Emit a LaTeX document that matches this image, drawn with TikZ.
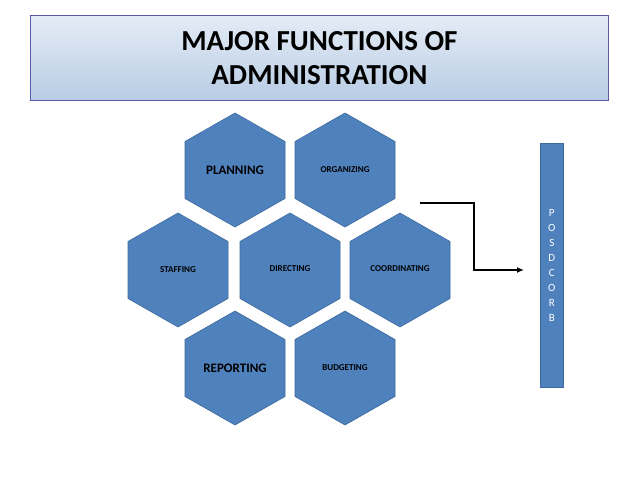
\documentclass[tikz,border=0pt]{standalone}
\usepackage{fontspec}
\setmainfont{Carlito}
\usetikzlibrary{arrows.meta}
\definecolor{hexblue}{HTML}{4F81BD}
\definecolor{hexedge}{HTML}{3A6A9E}
\definecolor{titletop}{HTML}{E4ECF6}
\definecolor{titlebot}{HTML}{B8CCE4}
\begin{document}
\begin{tikzpicture}[x=1pt,y=-1pt,
  hexlabel/.style={font=\bfseries\fontsize{9}{10}\selectfont,text=black},
  biglabel/.style={font=\bfseries\fontsize{13}{14}\selectfont,text=black},
  hexshape/.style={fill=hexblue,draw=hexedge,line width=0.6pt}]
\useasboundingbox (0,0) rectangle (638,479);
\fill[white] (0,0) rectangle (638,479);
\node[draw=gray!70!blue,line width=0.8pt,top color=titletop,bottom color=titlebot,minimum width=578,minimum height=85,inner sep=0,anchor=north west,
  align=center,font=\bfseries\fontsize{29}{34}\selectfont] (title) at (30,15) {MAJOR FUNCTIONS OF\\ADMINISTRATION};
\def\hex#1#2{\fill[hexshape] (#1,#2-57) -- (#1+50,#2-28.5) -- (#1+50,#2+28.5) -- (#1,#2+57) -- (#1-50,#2+28.5) -- (#1-50,#2-28.5) -- cycle;}
\hex{235}{170}\hex{345}{170}\hex{178}{270}\hex{290}{270}\hex{400}{270}\hex{235}{368}\hex{345}{368}
\node[biglabel] (plan) at (235,170) {PLANNING};
\node[hexlabel] (org) at (345,170) {ORGANIZING};
\node[hexlabel] (staff) at (178,270) {STAFFING};
\node[hexlabel] (dir) at (290,269) {DIRECTING};
\node[hexlabel] (coord) at (400,269) {COORDINATING};
\node[biglabel] (rep) at (235,368) {REPORTING};
\node[hexlabel] (bud) at (345,368) {BUDGETING};
\node[fill=hexblue,draw=hexedge,line width=0.6pt,minimum width=23,minimum height=244,inner sep=0,anchor=north west,
  align=center,text=white,font=\fontsize{11}{15}\selectfont] (pos) at (540,143) {P\\O\\S\\D\\C\\O\\R\\B};
\coordinate (start) at (420,203);
\coordinate (tip) at (524,270);
\draw[line width=1.4pt,-{Latex[length=7pt,width=6pt]}] (start) -- (474,203) -- (474,270) -- (tip);
\end{tikzpicture}
\end{document}
